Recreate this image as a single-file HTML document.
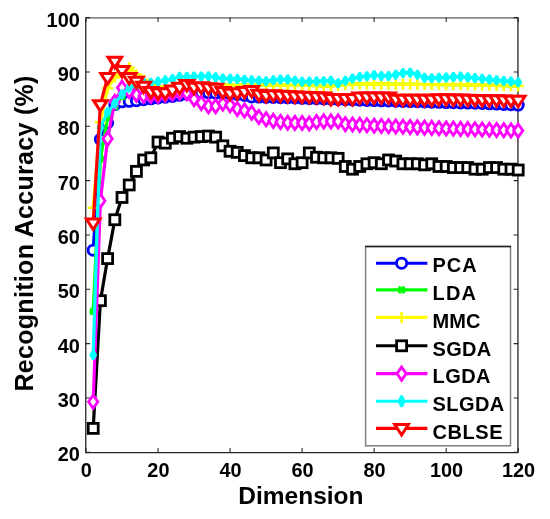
<!DOCTYPE html>
<html><head><meta charset="utf-8"><style>
html,body{margin:0;padding:0;background:#fff;width:550px;height:519px;overflow:hidden}
svg{display:block;will-change:transform}
text{font-family:"Liberation Sans",sans-serif;font-weight:bold;fill:#000}
.tick text{font-size:19.9px}
.lg{font-size:20px}
.xl{font-size:24.5px}
.yl{font-size:25px}
</style></head><body>
<svg width="550" height="519" viewBox="0 0 550 519">
<rect width="550" height="519" fill="#fff"/>
<path d="M85.75 17.2V452.55H517.95V17.2" fill="none" stroke="#262626" stroke-width="1.3"/><path d="M85.1 17.8H518.6" fill="none" stroke="#8a8a8a" stroke-width="1.7"/><path d="M85.75 452.30h4.3M517.95 452.30h-4.3M85.75 397.96h4.3M517.95 397.96h-4.3M85.75 343.62h4.3M517.95 343.62h-4.3M85.75 289.29h4.3M517.95 289.29h-4.3M85.75 234.95h4.3M517.95 234.95h-4.3M85.75 180.61h4.3M517.95 180.61h-4.3M85.75 126.28h4.3M517.95 126.28h-4.3M85.75 71.94h4.3M517.95 71.94h-4.3M85.75 17.60h4.3M517.95 17.60h-4.3M86.00 452.3v-4.3M86.00 17.6v4.3M158.03 452.3v-4.3M158.03 17.6v4.3M230.07 452.3v-4.3M230.07 17.6v4.3M302.10 452.3v-4.3M302.10 17.6v4.3M374.13 452.3v-4.3M374.13 17.6v4.3M446.17 452.3v-4.3M446.17 17.6v4.3M518.20 452.3v-4.3M518.20 17.6v4.3" stroke="#262626" stroke-width="1.1" fill="none"/>
<g><path d="M93.20 250.16L100.41 139.32L107.61 123.01L114.81 104.54L122.02 101.82L129.22 101.28L136.42 100.74L143.63 99.65L150.83 98.83L158.03 98.02L165.24 97.20L172.44 96.39L179.64 95.30L186.85 94.22L194.05 93.40L201.25 92.59L208.46 92.86L215.66 93.13L222.86 93.40L230.07 93.67L237.27 94.40L244.47 95.48L251.68 96.93L258.88 97.11L266.08 97.29L273.29 97.48L280.49 97.66L287.69 97.84L294.90 98.02L302.10 98.29L309.30 98.56L316.51 98.74L323.71 98.93L330.91 99.11L338.12 99.38L345.32 99.65L352.52 99.92L359.73 100.19L366.93 100.39L374.13 100.59L381.34 100.79L388.54 100.98L395.74 101.18L402.95 101.38L410.15 101.58L417.35 101.77L424.56 101.97L431.76 102.17L438.96 102.37L446.17 102.55L453.37 102.73L460.57 102.91L467.78 103.09L474.98 103.27L482.18 103.45L489.39 103.78L496.59 104.11L503.79 104.43L511.00 104.76L518.20 105.08" fill="none" stroke="#0000ff" stroke-width="3.2" stroke-linejoin="round"/><g fill="#fff" stroke="#0000ff" stroke-width="2.8" stroke-linejoin="miter"><circle cx="93.20" cy="250.16" r="5.1"/><circle cx="100.41" cy="139.32" r="5.1"/><circle cx="107.61" cy="123.01" r="5.1"/><circle cx="114.81" cy="104.54" r="5.1"/><circle cx="122.02" cy="101.82" r="5.1"/><circle cx="129.22" cy="101.28" r="5.1"/><circle cx="136.42" cy="100.74" r="5.1"/><circle cx="143.63" cy="99.65" r="5.1"/><circle cx="150.83" cy="98.83" r="5.1"/><circle cx="158.03" cy="98.02" r="5.1"/><circle cx="165.24" cy="97.20" r="5.1"/><circle cx="172.44" cy="96.39" r="5.1"/><circle cx="179.64" cy="95.30" r="5.1"/><circle cx="186.85" cy="94.22" r="5.1"/><circle cx="194.05" cy="93.40" r="5.1"/><circle cx="201.25" cy="92.59" r="5.1"/><circle cx="208.46" cy="92.86" r="5.1"/><circle cx="215.66" cy="93.13" r="5.1"/><circle cx="222.86" cy="93.40" r="5.1"/><circle cx="230.07" cy="93.67" r="5.1"/><circle cx="237.27" cy="94.40" r="5.1"/><circle cx="244.47" cy="95.48" r="5.1"/><circle cx="251.68" cy="96.93" r="5.1"/><circle cx="258.88" cy="97.11" r="5.1"/><circle cx="266.08" cy="97.29" r="5.1"/><circle cx="273.29" cy="97.48" r="5.1"/><circle cx="280.49" cy="97.66" r="5.1"/><circle cx="287.69" cy="97.84" r="5.1"/><circle cx="294.90" cy="98.02" r="5.1"/><circle cx="302.10" cy="98.29" r="5.1"/><circle cx="309.30" cy="98.56" r="5.1"/><circle cx="316.51" cy="98.74" r="5.1"/><circle cx="323.71" cy="98.93" r="5.1"/><circle cx="330.91" cy="99.11" r="5.1"/><circle cx="338.12" cy="99.38" r="5.1"/><circle cx="345.32" cy="99.65" r="5.1"/><circle cx="352.52" cy="99.92" r="5.1"/><circle cx="359.73" cy="100.19" r="5.1"/><circle cx="366.93" cy="100.39" r="5.1"/><circle cx="374.13" cy="100.59" r="5.1"/><circle cx="381.34" cy="100.79" r="5.1"/><circle cx="388.54" cy="100.98" r="5.1"/><circle cx="395.74" cy="101.18" r="5.1"/><circle cx="402.95" cy="101.38" r="5.1"/><circle cx="410.15" cy="101.58" r="5.1"/><circle cx="417.35" cy="101.77" r="5.1"/><circle cx="424.56" cy="101.97" r="5.1"/><circle cx="431.76" cy="102.17" r="5.1"/><circle cx="438.96" cy="102.37" r="5.1"/><circle cx="446.17" cy="102.55" r="5.1"/><circle cx="453.37" cy="102.73" r="5.1"/><circle cx="460.57" cy="102.91" r="5.1"/><circle cx="467.78" cy="103.09" r="5.1"/><circle cx="474.98" cy="103.27" r="5.1"/><circle cx="482.18" cy="103.45" r="5.1"/><circle cx="489.39" cy="103.78" r="5.1"/><circle cx="496.59" cy="104.11" r="5.1"/><circle cx="503.79" cy="104.43" r="5.1"/><circle cx="511.00" cy="104.76" r="5.1"/><circle cx="518.20" cy="105.08" r="5.1"/></g><path d="M93.20 311.57L100.41 158.88L107.61 117.58L114.81 106.71L122.02 96.39L129.22 89.33L136.42 85.52L143.63 83.35L150.83 84.98L158.03 87.15L165.24 86.97L172.44 86.79L179.64 86.61L186.85 86.38L194.05 86.14L201.25 85.91L208.46 85.68L215.66 85.44L222.86 85.21L230.07 84.98L237.27 84.98L244.47 84.98L251.68 84.98L258.88 84.98L266.08 84.98L273.29 84.98L280.49 84.98L287.69 84.98L294.90 84.98L302.10 84.98L309.30 85.34L316.51 85.70L323.71 86.07L330.91 85.79L338.12 85.52L345.32 84.71L352.52 83.89L359.73 83.95L366.93 84.01L374.13 84.07L381.34 84.13L388.54 84.19L395.74 84.25L402.95 84.31L410.15 84.37L417.35 84.44L424.56 84.50L431.76 84.56L438.96 84.62L446.17 84.68L453.37 84.74L460.57 84.80L467.78 84.86L474.98 84.92L482.18 84.98L489.39 85.20L496.59 85.41L503.79 85.63L511.00 85.85L518.20 86.07" fill="none" stroke="#00ff00" stroke-width="3.2" stroke-linejoin="round"/><g fill="#00ff00"><ellipse cx="91.50" cy="311.57" rx="2" ry="3.8"/><ellipse cx="94.90" cy="311.57" rx="2" ry="3.8"/><ellipse cx="98.71" cy="158.88" rx="2" ry="3.8"/><ellipse cx="102.11" cy="158.88" rx="2" ry="3.8"/><ellipse cx="105.91" cy="117.58" rx="2" ry="3.8"/><ellipse cx="109.31" cy="117.58" rx="2" ry="3.8"/><ellipse cx="113.11" cy="106.71" rx="2" ry="3.8"/><ellipse cx="116.51" cy="106.71" rx="2" ry="3.8"/><ellipse cx="120.32" cy="96.39" rx="2" ry="3.8"/><ellipse cx="123.72" cy="96.39" rx="2" ry="3.8"/><ellipse cx="127.52" cy="89.33" rx="2" ry="3.8"/><ellipse cx="130.92" cy="89.33" rx="2" ry="3.8"/><ellipse cx="134.72" cy="85.52" rx="2" ry="3.8"/><ellipse cx="138.12" cy="85.52" rx="2" ry="3.8"/></g><path d="M93.20 207.78L100.41 121.93L107.61 88.24L114.81 77.37L122.02 70.31L129.22 67.59L136.42 74.65L143.63 80.09L150.83 84.98L158.03 87.15L165.24 86.97L172.44 86.79L179.64 86.61L186.85 86.38L194.05 86.14L201.25 85.91L208.46 85.68L215.66 85.44L222.86 85.21L230.07 84.98L237.27 84.98L244.47 84.98L251.68 84.98L258.88 84.98L266.08 84.98L273.29 84.98L280.49 84.98L287.69 84.98L294.90 84.98L302.10 84.98L309.30 85.34L316.51 85.70L323.71 86.07L330.91 85.79L338.12 85.52L345.32 84.71L352.52 83.89L359.73 83.95L366.93 84.01L374.13 84.07L381.34 84.13L388.54 84.19L395.74 84.25L402.95 84.31L410.15 84.37L417.35 84.44L424.56 84.50L431.76 84.56L438.96 84.62L446.17 84.68L453.37 84.74L460.57 84.80L467.78 84.86L474.98 84.92L482.18 84.98L489.39 85.20L496.59 85.41L503.79 85.63L511.00 85.85L518.20 86.07" fill="none" stroke="#ffff00" stroke-width="3.2" stroke-linejoin="round"/><g fill="none" stroke="#ffff00" stroke-width="2.6"><path d="M87.70 207.78H98.70M93.20 202.28V213.28"/><path d="M94.91 121.93H105.91M100.41 116.43V127.43"/><path d="M102.11 88.24H113.11M107.61 82.74V93.74"/><path d="M109.31 77.37H120.31M114.81 71.87V82.87"/><path d="M116.52 70.31H127.52M122.02 64.81V75.81"/><path d="M123.72 67.59H134.72M129.22 62.09V73.09"/><path d="M130.92 74.65H141.92M136.42 69.15V80.15"/><path d="M138.13 80.09H149.13M143.63 74.59V85.59"/><path d="M145.33 84.98H156.33M150.83 79.48V90.48"/><path d="M152.53 87.15H163.53M158.03 81.65V92.65"/><path d="M159.74 86.97H170.74M165.24 81.47V92.47"/><path d="M166.94 86.79H177.94M172.44 81.29V92.29"/><path d="M174.14 86.61H185.14M179.64 81.11V92.11"/><path d="M181.35 86.38H192.35M186.85 80.88V91.88"/><path d="M188.55 86.14H199.55M194.05 80.64V91.64"/><path d="M195.75 85.91H206.75M201.25 80.41V91.41"/><path d="M202.96 85.68H213.96M208.46 80.18V91.18"/><path d="M210.16 85.44H221.16M215.66 79.94V90.94"/><path d="M217.36 85.21H228.36M222.86 79.71V90.71"/><path d="M224.57 84.98H235.57M230.07 79.48V90.48"/><path d="M231.77 84.98H242.77M237.27 79.48V90.48"/><path d="M238.97 84.98H249.97M244.47 79.48V90.48"/><path d="M246.18 84.98H257.18M251.68 79.48V90.48"/><path d="M253.38 84.98H264.38M258.88 79.48V90.48"/><path d="M260.58 84.98H271.58M266.08 79.48V90.48"/><path d="M267.79 84.98H278.79M273.29 79.48V90.48"/><path d="M274.99 84.98H285.99M280.49 79.48V90.48"/><path d="M282.19 84.98H293.19M287.69 79.48V90.48"/><path d="M289.40 84.98H300.40M294.90 79.48V90.48"/><path d="M296.60 84.98H307.60M302.10 79.48V90.48"/><path d="M303.80 85.34H314.80M309.30 79.84V90.84"/><path d="M311.01 85.70H322.01M316.51 80.20V91.20"/><path d="M318.21 86.07H329.21M323.71 80.57V91.57"/><path d="M325.41 85.79H336.41M330.91 80.29V91.29"/><path d="M332.62 85.52H343.62M338.12 80.02V91.02"/><path d="M339.82 84.71H350.82M345.32 79.21V90.21"/><path d="M347.02 83.89H358.02M352.52 78.39V89.39"/><path d="M354.23 83.95H365.23M359.73 78.45V89.45"/><path d="M361.43 84.01H372.43M366.93 78.51V89.51"/><path d="M368.63 84.07H379.63M374.13 78.57V89.57"/><path d="M375.84 84.13H386.84M381.34 78.63V89.63"/><path d="M383.04 84.19H394.04M388.54 78.69V89.69"/><path d="M390.24 84.25H401.24M395.74 78.75V89.75"/><path d="M397.45 84.31H408.45M402.95 78.81V89.81"/><path d="M404.65 84.37H415.65M410.15 78.87V89.87"/><path d="M411.85 84.44H422.85M417.35 78.94V89.94"/><path d="M419.06 84.50H430.06M424.56 79.00V90.00"/><path d="M426.26 84.56H437.26M431.76 79.06V90.06"/><path d="M433.46 84.62H444.46M438.96 79.12V90.12"/><path d="M440.67 84.68H451.67M446.17 79.18V90.18"/><path d="M447.87 84.74H458.87M453.37 79.24V90.24"/><path d="M455.07 84.80H466.07M460.57 79.30V90.30"/><path d="M462.28 84.86H473.28M467.78 79.36V90.36"/><path d="M469.48 84.92H480.48M474.98 79.42V90.42"/><path d="M476.68 84.98H487.68M482.18 79.48V90.48"/><path d="M483.89 85.20H494.89M489.39 79.70V90.70"/><path d="M491.09 85.41H502.09M496.59 79.91V90.91"/><path d="M498.29 85.63H509.29M503.79 80.13V91.13"/><path d="M505.50 85.85H516.50M511.00 80.35V91.35"/><path d="M512.70 86.07H523.70M518.20 80.57V91.57"/></g><path d="M93.20 428.39L100.41 300.70L107.61 258.59L114.81 219.74L122.02 197.46L129.22 184.96L136.42 171.38L143.63 159.96L150.83 157.79L158.03 142.03L165.24 143.12L172.44 138.23L179.64 136.60L186.85 138.23L194.05 137.14L201.25 136.60L208.46 136.06L215.66 137.14L222.86 145.84L230.07 151.27L237.27 152.36L244.47 155.62L251.68 157.79L258.88 157.79L266.08 159.96L273.29 152.90L280.49 162.68L287.69 158.88L294.90 163.77L302.10 162.68L309.30 152.90L316.51 157.25L323.71 157.79L330.91 157.79L338.12 158.33L345.32 166.48L352.52 169.20L359.73 166.48L366.93 163.77L374.13 162.68L381.34 163.77L388.54 159.96L395.74 161.05L402.95 163.77L410.15 163.77L417.35 163.77L424.56 164.85L431.76 163.77L438.96 166.48L446.17 166.48L453.37 167.57L460.57 167.57L467.78 167.57L474.98 169.20L482.18 169.20L489.39 167.57L496.59 167.57L503.79 169.20L511.00 169.20L518.20 170.02" fill="none" stroke="#000000" stroke-width="3.2" stroke-linejoin="round"/><g fill="#fff" stroke="#000000" stroke-width="2.8" stroke-linejoin="miter"><rect x="88.20" y="423.39" width="10" height="10"/><rect x="95.41" y="295.70" width="10" height="10"/><rect x="102.61" y="253.59" width="10" height="10"/><rect x="109.81" y="214.74" width="10" height="10"/><rect x="117.02" y="192.46" width="10" height="10"/><rect x="124.22" y="179.96" width="10" height="10"/><rect x="131.42" y="166.38" width="10" height="10"/><rect x="138.63" y="154.96" width="10" height="10"/><rect x="145.83" y="152.79" width="10" height="10"/><rect x="153.03" y="137.03" width="10" height="10"/><rect x="160.24" y="138.12" width="10" height="10"/><rect x="167.44" y="133.23" width="10" height="10"/><rect x="174.64" y="131.60" width="10" height="10"/><rect x="181.85" y="133.23" width="10" height="10"/><rect x="189.05" y="132.14" width="10" height="10"/><rect x="196.25" y="131.60" width="10" height="10"/><rect x="203.46" y="131.06" width="10" height="10"/><rect x="210.66" y="132.14" width="10" height="10"/><rect x="217.86" y="140.84" width="10" height="10"/><rect x="225.07" y="146.27" width="10" height="10"/><rect x="232.27" y="147.36" width="10" height="10"/><rect x="239.47" y="150.62" width="10" height="10"/><rect x="246.68" y="152.79" width="10" height="10"/><rect x="253.88" y="152.79" width="10" height="10"/><rect x="261.08" y="154.96" width="10" height="10"/><rect x="268.29" y="147.90" width="10" height="10"/><rect x="275.49" y="157.68" width="10" height="10"/><rect x="282.69" y="153.88" width="10" height="10"/><rect x="289.90" y="158.77" width="10" height="10"/><rect x="297.10" y="157.68" width="10" height="10"/><rect x="304.30" y="147.90" width="10" height="10"/><rect x="311.51" y="152.25" width="10" height="10"/><rect x="318.71" y="152.79" width="10" height="10"/><rect x="325.91" y="152.79" width="10" height="10"/><rect x="333.12" y="153.33" width="10" height="10"/><rect x="340.32" y="161.48" width="10" height="10"/><rect x="347.52" y="164.20" width="10" height="10"/><rect x="354.73" y="161.48" width="10" height="10"/><rect x="361.93" y="158.77" width="10" height="10"/><rect x="369.13" y="157.68" width="10" height="10"/><rect x="376.34" y="158.77" width="10" height="10"/><rect x="383.54" y="154.96" width="10" height="10"/><rect x="390.74" y="156.05" width="10" height="10"/><rect x="397.95" y="158.77" width="10" height="10"/><rect x="405.15" y="158.77" width="10" height="10"/><rect x="412.35" y="158.77" width="10" height="10"/><rect x="419.56" y="159.85" width="10" height="10"/><rect x="426.76" y="158.77" width="10" height="10"/><rect x="433.96" y="161.48" width="10" height="10"/><rect x="441.17" y="161.48" width="10" height="10"/><rect x="448.37" y="162.57" width="10" height="10"/><rect x="455.57" y="162.57" width="10" height="10"/><rect x="462.78" y="162.57" width="10" height="10"/><rect x="469.98" y="164.20" width="10" height="10"/><rect x="477.18" y="164.20" width="10" height="10"/><rect x="484.39" y="162.57" width="10" height="10"/><rect x="491.59" y="162.57" width="10" height="10"/><rect x="498.79" y="164.20" width="10" height="10"/><rect x="506.00" y="164.20" width="10" height="10"/><rect x="513.20" y="165.02" width="10" height="10"/></g><path d="M93.20 401.77L100.41 200.72L107.61 138.77L114.81 101.82L122.02 87.70L129.22 90.96L136.42 94.76L143.63 95.85L150.83 95.85L158.03 95.85L165.24 94.76L172.44 93.67L179.64 92.59L186.85 93.13L194.05 99.11L201.25 102.91L208.46 106.17L215.66 106.17L222.86 103.45L230.07 105.08L237.27 108.89L244.47 110.52L251.68 112.69L258.88 117.04L266.08 119.21L273.29 120.84L280.49 121.93L287.69 122.74L294.90 122.88L302.10 123.01L309.30 123.56L316.51 121.93L323.71 121.38L330.91 121.38L338.12 121.38L345.32 124.10L352.52 124.51L359.73 124.92L366.93 125.32L374.13 125.73L381.34 126.00L388.54 126.28L395.74 126.55L402.95 126.82L410.15 127.09L417.35 127.36L424.56 127.63L431.76 127.91L438.96 128.18L446.17 128.45L453.37 128.67L460.57 128.88L467.78 129.10L474.98 129.32L482.18 129.54L489.39 129.75L496.59 129.97L503.79 130.19L511.00 130.40L518.20 130.62" fill="none" stroke="#ff00ff" stroke-width="3.2" stroke-linejoin="round"/><g fill="#fff" stroke="#ff00ff" stroke-width="2.8" stroke-linejoin="miter"><path d="M93.20 395.17L97.80 401.77L93.20 408.37L88.60 401.77Z"/><path d="M100.41 194.12L105.01 200.72L100.41 207.32L95.81 200.72Z"/><path d="M107.61 132.17L112.21 138.77L107.61 145.37L103.01 138.77Z"/><path d="M114.81 95.22L119.41 101.82L114.81 108.42L110.21 101.82Z"/><path d="M122.02 81.10L126.62 87.70L122.02 94.30L117.42 87.70Z"/><path d="M129.22 84.36L133.82 90.96L129.22 97.56L124.62 90.96Z"/><path d="M136.42 88.16L141.02 94.76L136.42 101.36L131.82 94.76Z"/><path d="M143.63 89.25L148.23 95.85L143.63 102.45L139.03 95.85Z"/><path d="M150.83 89.25L155.43 95.85L150.83 102.45L146.23 95.85Z"/><path d="M158.03 89.25L162.63 95.85L158.03 102.45L153.43 95.85Z"/><path d="M165.24 88.16L169.84 94.76L165.24 101.36L160.64 94.76Z"/><path d="M172.44 87.07L177.04 93.67L172.44 100.27L167.84 93.67Z"/><path d="M179.64 85.99L184.24 92.59L179.64 99.19L175.04 92.59Z"/><path d="M186.85 86.53L191.45 93.13L186.85 99.73L182.25 93.13Z"/><path d="M194.05 92.51L198.65 99.11L194.05 105.71L189.45 99.11Z"/><path d="M201.25 96.31L205.85 102.91L201.25 109.51L196.65 102.91Z"/><path d="M208.46 99.57L213.06 106.17L208.46 112.77L203.86 106.17Z"/><path d="M215.66 99.57L220.26 106.17L215.66 112.77L211.06 106.17Z"/><path d="M222.86 96.85L227.46 103.45L222.86 110.05L218.26 103.45Z"/><path d="M230.07 98.48L234.67 105.08L230.07 111.68L225.47 105.08Z"/><path d="M237.27 102.29L241.87 108.89L237.27 115.49L232.67 108.89Z"/><path d="M244.47 103.92L249.07 110.52L244.47 117.12L239.87 110.52Z"/><path d="M251.68 106.09L256.28 112.69L251.68 119.29L247.08 112.69Z"/><path d="M258.88 110.44L263.48 117.04L258.88 123.64L254.28 117.04Z"/><path d="M266.08 112.61L270.68 119.21L266.08 125.81L261.48 119.21Z"/><path d="M273.29 114.24L277.89 120.84L273.29 127.44L268.69 120.84Z"/><path d="M280.49 115.33L285.09 121.93L280.49 128.53L275.89 121.93Z"/><path d="M287.69 116.14L292.29 122.74L287.69 129.34L283.09 122.74Z"/><path d="M294.90 116.28L299.50 122.88L294.90 129.48L290.30 122.88Z"/><path d="M302.10 116.41L306.70 123.01L302.10 129.61L297.50 123.01Z"/><path d="M309.30 116.96L313.90 123.56L309.30 130.16L304.70 123.56Z"/><path d="M316.51 115.33L321.11 121.93L316.51 128.53L311.91 121.93Z"/><path d="M323.71 114.78L328.31 121.38L323.71 127.98L319.11 121.38Z"/><path d="M330.91 114.78L335.51 121.38L330.91 127.98L326.31 121.38Z"/><path d="M338.12 114.78L342.72 121.38L338.12 127.98L333.52 121.38Z"/><path d="M345.32 117.50L349.92 124.10L345.32 130.70L340.72 124.10Z"/><path d="M352.52 117.91L357.12 124.51L352.52 131.11L347.92 124.51Z"/><path d="M359.73 118.32L364.33 124.92L359.73 131.52L355.13 124.92Z"/><path d="M366.93 118.72L371.53 125.32L366.93 131.92L362.33 125.32Z"/><path d="M374.13 119.13L378.73 125.73L374.13 132.33L369.53 125.73Z"/><path d="M381.34 119.40L385.94 126.00L381.34 132.60L376.74 126.00Z"/><path d="M388.54 119.68L393.14 126.28L388.54 132.88L383.94 126.28Z"/><path d="M395.74 119.95L400.34 126.55L395.74 133.15L391.14 126.55Z"/><path d="M402.95 120.22L407.55 126.82L402.95 133.42L398.35 126.82Z"/><path d="M410.15 120.49L414.75 127.09L410.15 133.69L405.55 127.09Z"/><path d="M417.35 120.76L421.95 127.36L417.35 133.96L412.75 127.36Z"/><path d="M424.56 121.03L429.16 127.63L424.56 134.23L419.96 127.63Z"/><path d="M431.76 121.31L436.36 127.91L431.76 134.51L427.16 127.91Z"/><path d="M438.96 121.58L443.56 128.18L438.96 134.78L434.36 128.18Z"/><path d="M446.17 121.85L450.77 128.45L446.17 135.05L441.57 128.45Z"/><path d="M453.37 122.07L457.97 128.67L453.37 135.27L448.77 128.67Z"/><path d="M460.57 122.28L465.17 128.88L460.57 135.48L455.97 128.88Z"/><path d="M467.78 122.50L472.38 129.10L467.78 135.70L463.18 129.10Z"/><path d="M474.98 122.72L479.58 129.32L474.98 135.92L470.38 129.32Z"/><path d="M482.18 122.94L486.78 129.54L482.18 136.14L477.58 129.54Z"/><path d="M489.39 123.15L493.99 129.75L489.39 136.35L484.79 129.75Z"/><path d="M496.59 123.37L501.19 129.97L496.59 136.57L491.99 129.97Z"/><path d="M503.79 123.59L508.39 130.19L503.79 136.79L499.19 130.19Z"/><path d="M511.00 123.80L515.60 130.40L511.00 137.00L506.40 130.40Z"/><path d="M518.20 124.02L522.80 130.62L518.20 137.22L513.60 130.62Z"/></g><path d="M93.20 355.04L100.41 127.36L107.61 112.15L114.81 103.45L122.02 94.22L129.22 87.70L136.42 83.89L143.63 82.26L150.83 82.81L158.03 81.72L165.24 80.36L172.44 79.00L179.64 76.83L186.85 76.69L194.05 76.56L201.25 76.42L208.46 76.28L215.66 77.37L222.86 78.46L230.07 78.73L237.27 79.00L244.47 79.73L251.68 80.31L258.88 80.74L266.08 81.17L273.29 80.31L280.49 79.44L287.69 79.54L294.90 80.63L302.10 81.72L309.30 81.61L316.51 81.50L323.71 81.17L330.91 80.63L338.12 83.35L345.32 80.81L352.52 78.46L359.73 77.01L366.93 76.28L374.13 75.20L381.34 75.92L388.54 75.88L395.74 74.65L402.95 73.02L410.15 72.66L417.35 74.65L424.56 77.64L431.76 78.25L438.96 77.82L446.17 77.40L453.37 76.98L460.57 76.56L467.78 77.30L474.98 78.04L482.18 78.78L489.39 79.52L496.59 80.26L503.79 80.96L511.00 81.61L518.20 82.26" fill="none" stroke="#00ffff" stroke-width="3.2" stroke-linejoin="round"/><g fill="#00ffff"><path d="M92.10 350.04H94.30L96.80 354.14V355.94L94.30 360.04H92.10L89.60 355.94V354.14Z"/><path d="M99.31 122.36H101.51L104.01 126.46V128.26L101.51 132.36H99.31L96.81 128.26V126.46Z"/><path d="M106.51 107.15H108.71L111.21 111.25V113.05L108.71 117.15H106.51L104.01 113.05V111.25Z"/><path d="M113.71 98.45H115.91L118.41 102.55V104.35L115.91 108.45H113.71L111.21 104.35V102.55Z"/><path d="M120.92 89.22H123.12L125.62 93.32V95.12L123.12 99.22H120.92L118.42 95.12V93.32Z"/><path d="M128.12 82.70H130.32L132.82 86.80V88.60L130.32 92.70H128.12L125.62 88.60V86.80Z"/><path d="M135.32 78.89H137.52L140.02 82.99V84.79L137.52 88.89H135.32L132.82 84.79V82.99Z"/><path d="M142.53 77.26H144.73L147.23 81.36V83.16L144.73 87.26H142.53L140.03 83.16V81.36Z"/><path d="M149.73 77.81H151.93L154.43 81.91V83.71L151.93 87.81H149.73L147.23 83.71V81.91Z"/><path d="M156.93 76.72H159.13L161.63 80.82V82.62L159.13 86.72H156.93L154.43 82.62V80.82Z"/><path d="M164.14 75.36H166.34L168.84 79.46V81.26L166.34 85.36H164.14L161.64 81.26V79.46Z"/><path d="M171.34 74.00H173.54L176.04 78.10V79.90L173.54 84.00H171.34L168.84 79.90V78.10Z"/><path d="M178.54 71.83H180.74L183.24 75.93V77.73L180.74 81.83H178.54L176.04 77.73V75.93Z"/><path d="M185.75 71.69H187.95L190.45 75.79V77.59L187.95 81.69H185.75L183.25 77.59V75.79Z"/><path d="M192.95 71.56H195.15L197.65 75.66V77.46L195.15 81.56H192.95L190.45 77.46V75.66Z"/><path d="M200.15 71.42H202.35L204.85 75.52V77.32L202.35 81.42H200.15L197.65 77.32V75.52Z"/><path d="M207.36 71.28H209.56L212.06 75.38V77.18L209.56 81.28H207.36L204.86 77.18V75.38Z"/><path d="M214.56 72.37H216.76L219.26 76.47V78.27L216.76 82.37H214.56L212.06 78.27V76.47Z"/><path d="M221.76 73.46H223.96L226.46 77.56V79.36L223.96 83.46H221.76L219.26 79.36V77.56Z"/><path d="M228.97 73.73H231.17L233.67 77.83V79.63L231.17 83.73H228.97L226.47 79.63V77.83Z"/><path d="M236.17 74.00H238.37L240.87 78.10V79.90L238.37 84.00H236.17L233.67 79.90V78.10Z"/><path d="M243.37 74.73H245.57L248.07 78.83V80.63L245.57 84.73H243.37L240.87 80.63V78.83Z"/><path d="M250.58 75.31H252.78L255.28 79.41V81.21L252.78 85.31H250.58L248.08 81.21V79.41Z"/><path d="M257.78 75.74H259.98L262.48 79.84V81.64L259.98 85.74H257.78L255.28 81.64V79.84Z"/><path d="M264.98 76.17H267.18L269.68 80.27V82.07L267.18 86.17H264.98L262.48 82.07V80.27Z"/><path d="M272.19 75.31H274.39L276.89 79.41V81.21L274.39 85.31H272.19L269.69 81.21V79.41Z"/><path d="M279.39 74.44H281.59L284.09 78.54V80.34L281.59 84.44H279.39L276.89 80.34V78.54Z"/><path d="M286.59 74.54H288.79L291.29 78.64V80.44L288.79 84.54H286.59L284.09 80.44V78.64Z"/><path d="M293.80 75.63H296.00L298.50 79.73V81.53L296.00 85.63H293.80L291.30 81.53V79.73Z"/><path d="M301.00 76.72H303.20L305.70 80.82V82.62L303.20 86.72H301.00L298.50 82.62V80.82Z"/><path d="M308.20 76.61H310.40L312.90 80.71V82.51L310.40 86.61H308.20L305.70 82.51V80.71Z"/><path d="M315.41 76.50H317.61L320.11 80.60V82.40L317.61 86.50H315.41L312.91 82.40V80.60Z"/><path d="M322.61 76.17H324.81L327.31 80.27V82.07L324.81 86.17H322.61L320.11 82.07V80.27Z"/><path d="M329.81 75.63H332.01L334.51 79.73V81.53L332.01 85.63H329.81L327.31 81.53V79.73Z"/><path d="M337.02 78.35H339.22L341.72 82.45V84.25L339.22 88.35H337.02L334.52 84.25V82.45Z"/><path d="M344.22 75.81H346.42L348.92 79.91V81.71L346.42 85.81H344.22L341.72 81.71V79.91Z"/><path d="M351.42 73.46H353.62L356.12 77.56V79.36L353.62 83.46H351.42L348.92 79.36V77.56Z"/><path d="M358.63 72.01H360.83L363.33 76.11V77.91L360.83 82.01H358.63L356.13 77.91V76.11Z"/><path d="M365.83 71.28H368.03L370.53 75.38V77.18L368.03 81.28H365.83L363.33 77.18V75.38Z"/><path d="M373.03 70.20H375.23L377.73 74.30V76.10L375.23 80.20H373.03L370.53 76.10V74.30Z"/><path d="M380.24 70.92H382.44L384.94 75.02V76.82L382.44 80.92H380.24L377.74 76.82V75.02Z"/><path d="M387.44 70.88H389.64L392.14 74.98V76.78L389.64 80.88H387.44L384.94 76.78V74.98Z"/><path d="M394.64 69.65H396.84L399.34 73.75V75.55L396.84 79.65H394.64L392.14 75.55V73.75Z"/><path d="M401.85 68.02H404.05L406.55 72.12V73.92L404.05 78.02H401.85L399.35 73.92V72.12Z"/><path d="M409.05 67.66H411.25L413.75 71.76V73.56L411.25 77.66H409.05L406.55 73.56V71.76Z"/><path d="M416.25 69.65H418.45L420.95 73.75V75.55L418.45 79.65H416.25L413.75 75.55V73.75Z"/><path d="M423.46 72.64H425.66L428.16 76.74V78.54L425.66 82.64H423.46L420.96 78.54V76.74Z"/><path d="M430.66 73.25H432.86L435.36 77.35V79.15L432.86 83.25H430.66L428.16 79.15V77.35Z"/><path d="M437.86 72.82H440.06L442.56 76.92V78.72L440.06 82.82H437.86L435.36 78.72V76.92Z"/><path d="M445.07 72.40H447.27L449.77 76.50V78.30L447.27 82.40H445.07L442.57 78.30V76.50Z"/><path d="M452.27 71.98H454.47L456.97 76.08V77.88L454.47 81.98H452.27L449.77 77.88V76.08Z"/><path d="M459.47 71.56H461.67L464.17 75.66V77.46L461.67 81.56H459.47L456.97 77.46V75.66Z"/><path d="M466.68 72.30H468.88L471.38 76.40V78.20L468.88 82.30H466.68L464.18 78.20V76.40Z"/><path d="M473.88 73.04H476.08L478.58 77.14V78.94L476.08 83.04H473.88L471.38 78.94V77.14Z"/><path d="M481.08 73.78H483.28L485.78 77.88V79.68L483.28 83.78H481.08L478.58 79.68V77.88Z"/><path d="M488.29 74.52H490.49L492.99 78.62V80.42L490.49 84.52H488.29L485.79 80.42V78.62Z"/><path d="M495.49 75.26H497.69L500.19 79.36V81.16L497.69 85.26H495.49L492.99 81.16V79.36Z"/><path d="M502.69 75.96H504.89L507.39 80.06V81.86L504.89 85.96H502.69L500.19 81.86V80.06Z"/><path d="M509.90 76.61H512.10L514.60 80.71V82.51L512.10 86.61H509.90L507.40 82.51V80.71Z"/><path d="M517.10 77.26H519.30L521.80 81.36V83.16L519.30 87.26H517.10L514.60 83.16V81.36Z"/></g><path d="M93.20 223.00L100.41 104.54L107.61 77.37L114.81 61.07L122.02 70.31L129.22 77.37L136.42 81.17L143.63 86.07L150.83 91.50L158.03 92.59L165.24 92.59L172.44 89.87L179.64 87.15L186.85 84.44L194.05 87.15L201.25 86.61L208.46 87.70L215.66 88.24L222.86 91.50L230.07 93.13L237.27 92.59L244.47 91.50L251.68 90.41L258.88 94.22L266.08 95.30L273.29 94.76L280.49 95.12L287.69 95.48L294.90 95.85L302.10 96.12L309.30 96.39L316.51 96.66L323.71 96.93L330.91 98.29L338.12 98.29L345.32 98.29L352.52 98.29L359.73 96.93L366.93 96.93L374.13 96.93L381.34 96.93L388.54 96.93L395.74 99.11L402.95 99.11L410.15 99.11L417.35 99.11L424.56 99.11L431.76 99.11L438.96 98.56L446.17 98.71L453.37 98.86L460.57 99.01L467.78 99.16L474.98 99.30L482.18 99.45L489.39 99.60L496.59 99.75L503.79 99.90L511.00 100.04L518.20 100.19" fill="none" stroke="#ff0000" stroke-width="3.2" stroke-linejoin="round"/><g fill="#fff" stroke="#ff0000" stroke-width="3.0" stroke-linejoin="miter"><path d="M86.40 219.10L100.00 219.10L93.20 229.60Z"/><path d="M93.61 100.64L107.21 100.64L100.41 111.14Z"/><path d="M100.81 73.47L114.41 73.47L107.61 83.97Z"/><path d="M108.01 57.17L121.61 57.17L114.81 67.67Z"/><path d="M115.22 66.41L128.82 66.41L122.02 76.91Z"/><path d="M122.42 73.47L136.02 73.47L129.22 83.97Z"/><path d="M129.62 77.27L143.22 77.27L136.42 87.77Z"/><path d="M136.83 82.17L150.43 82.17L143.63 92.67Z"/><path d="M144.03 87.60L157.63 87.60L150.83 98.10Z"/><path d="M151.23 88.69L164.83 88.69L158.03 99.19Z"/><path d="M158.44 88.69L172.04 88.69L165.24 99.19Z"/><path d="M165.64 85.97L179.24 85.97L172.44 96.47Z"/><path d="M172.84 83.25L186.44 83.25L179.64 93.75Z"/><path d="M180.05 80.54L193.65 80.54L186.85 91.04Z"/><path d="M187.25 83.25L200.85 83.25L194.05 93.75Z"/><path d="M194.45 82.71L208.05 82.71L201.25 93.21Z"/><path d="M201.66 83.80L215.26 83.80L208.46 94.30Z"/><path d="M208.86 84.34L222.46 84.34L215.66 94.84Z"/><path d="M216.06 87.60L229.66 87.60L222.86 98.10Z"/><path d="M223.27 89.23L236.87 89.23L230.07 99.73Z"/><path d="M230.47 88.69L244.07 88.69L237.27 99.19Z"/><path d="M237.67 87.60L251.27 87.60L244.47 98.10Z"/><path d="M244.88 86.51L258.48 86.51L251.68 97.01Z"/><path d="M252.08 90.32L265.68 90.32L258.88 100.82Z"/><path d="M259.28 91.40L272.88 91.40L266.08 101.90Z"/><path d="M266.49 90.86L280.09 90.86L273.29 101.36Z"/><path d="M273.69 91.22L287.29 91.22L280.49 101.72Z"/><path d="M280.89 91.58L294.49 91.58L287.69 102.08Z"/><path d="M288.10 91.95L301.70 91.95L294.90 102.45Z"/><path d="M295.30 92.22L308.90 92.22L302.10 102.72Z"/><path d="M302.50 92.49L316.10 92.49L309.30 102.99Z"/><path d="M309.71 92.76L323.31 92.76L316.51 103.26Z"/><path d="M316.91 93.03L330.51 93.03L323.71 103.53Z"/><path d="M324.11 94.39L337.71 94.39L330.91 104.89Z"/><path d="M331.32 94.39L344.92 94.39L338.12 104.89Z"/><path d="M338.52 94.39L352.12 94.39L345.32 104.89Z"/><path d="M345.72 94.39L359.32 94.39L352.52 104.89Z"/><path d="M352.93 93.03L366.53 93.03L359.73 103.53Z"/><path d="M360.13 93.03L373.73 93.03L366.93 103.53Z"/><path d="M367.33 93.03L380.93 93.03L374.13 103.53Z"/><path d="M374.54 93.03L388.14 93.03L381.34 103.53Z"/><path d="M381.74 93.03L395.34 93.03L388.54 103.53Z"/><path d="M388.94 95.21L402.54 95.21L395.74 105.71Z"/><path d="M396.15 95.21L409.75 95.21L402.95 105.71Z"/><path d="M403.35 95.21L416.95 95.21L410.15 105.71Z"/><path d="M410.55 95.21L424.15 95.21L417.35 105.71Z"/><path d="M417.76 95.21L431.36 95.21L424.56 105.71Z"/><path d="M424.96 95.21L438.56 95.21L431.76 105.71Z"/><path d="M432.16 94.66L445.76 94.66L438.96 105.16Z"/><path d="M439.37 94.81L452.97 94.81L446.17 105.31Z"/><path d="M446.57 94.96L460.17 94.96L453.37 105.46Z"/><path d="M453.77 95.11L467.37 95.11L460.57 105.61Z"/><path d="M460.98 95.26L474.58 95.26L467.78 105.76Z"/><path d="M468.18 95.40L481.78 95.40L474.98 105.90Z"/><path d="M475.38 95.55L488.98 95.55L482.18 106.05Z"/><path d="M482.59 95.70L496.19 95.70L489.39 106.20Z"/><path d="M489.79 95.85L503.39 95.85L496.59 106.35Z"/><path d="M496.99 96.00L510.59 96.00L503.79 106.50Z"/><path d="M504.20 96.14L517.80 96.14L511.00 106.64Z"/><path d="M511.40 96.29L525.00 96.29L518.20 106.79Z"/></g></g>
<g class="tick"><text x="79.8" y="461.30" text-anchor="end">20</text><text x="79.8" y="406.96" text-anchor="end">30</text><text x="79.8" y="352.62" text-anchor="end">40</text><text x="79.8" y="298.29" text-anchor="end">50</text><text x="79.8" y="243.95" text-anchor="end">60</text><text x="79.8" y="189.61" text-anchor="end">70</text><text x="79.8" y="135.28" text-anchor="end">80</text><text x="79.8" y="80.94" text-anchor="end">90</text><text x="79.8" y="26.60" text-anchor="end">100</text><text x="86.40" y="477.0" text-anchor="middle">0</text><text x="158.43" y="477.0" text-anchor="middle">20</text><text x="230.47" y="477.0" text-anchor="middle">40</text><text x="302.50" y="477.0" text-anchor="middle">60</text><text x="374.53" y="477.0" text-anchor="middle">80</text><text x="446.57" y="477.0" text-anchor="middle">100</text><text x="518.60" y="477.0" text-anchor="middle">120</text></g>
<rect x="365.6" y="246.5" width="144.9" height="199.3" fill="#fff" stroke="#808080" stroke-width="1.5"/><path d="M365.0 246.5H511.1" stroke="#202020" stroke-width="1.3" fill="none"/><path d="M376 263.20H427.4" stroke="#0000ff" stroke-width="3.1" fill="none"/><g fill="#fff" stroke="#0000ff" stroke-width="2.8" stroke-linejoin="miter"><circle cx="401.60" cy="263.20" r="5.1"/></g><text x="432.6" y="272.00" class="lg" textLength="44.0" lengthAdjust="spacing">PCA</text><path d="M376 289.90H427.4" stroke="#00ff00" stroke-width="3.1" fill="none"/><g fill="#00ff00"><ellipse cx="399.90" cy="289.90" rx="2" ry="3.8"/><ellipse cx="403.30" cy="289.90" rx="2" ry="3.8"/></g><text x="432.6" y="299.85" class="lg" textLength="43.4" lengthAdjust="spacing">LDA</text><path d="M376 317.40H427.4" stroke="#ffff00" stroke-width="3.1" fill="none"/><g fill="none" stroke="#ffff00" stroke-width="2.6"><path d="M396.10 317.40H407.10M401.60 311.90V322.90"/></g><text x="432.6" y="327.70" class="lg" textLength="47.8" lengthAdjust="spacing">MMC</text><path d="M376 345.80H427.4" stroke="#000000" stroke-width="3.1" fill="none"/><g fill="#fff" stroke="#000000" stroke-width="2.8" stroke-linejoin="miter"><rect x="396.60" y="340.80" width="10" height="10"/></g><text x="432.6" y="355.55" class="lg" textLength="58.6" lengthAdjust="spacing">SGDA</text><path d="M376 373.60H427.4" stroke="#ff00ff" stroke-width="3.1" fill="none"/><g fill="#fff" stroke="#ff00ff" stroke-width="2.8" stroke-linejoin="miter"><path d="M401.60 367.00L406.20 373.60L401.60 380.20L397.00 373.60Z"/></g><text x="432.6" y="383.40" class="lg" textLength="57.9" lengthAdjust="spacing">LGDA</text><path d="M376 401.20H427.4" stroke="#00ffff" stroke-width="3.1" fill="none"/><g fill="#00ffff"><path d="M400.50 395.20H402.70L405.30 400.20V402.20L402.70 407.20H400.50L397.90 402.20V400.20Z"/></g><text x="432.6" y="411.25" class="lg" textLength="71.6" lengthAdjust="spacing">SLGDA</text><path d="M376 428.40H427.4" stroke="#ff0000" stroke-width="3.1" fill="none"/><g fill="#fff" stroke="#ff0000" stroke-width="3.0" stroke-linejoin="miter"><path d="M394.80 424.50L408.40 424.50L401.60 435.00Z"/></g><text x="432.6" y="439.10" class="lg" textLength="69.9" lengthAdjust="spacing">CBLSE</text>
<text x="238.3" y="503.9" class="xl">Dimension</text>
<text transform="translate(32.6 391.6) rotate(-90)" x="0" y="0" class="yl" textLength="316" lengthAdjust="spacing">Recognition Accuracy (%)</text>
</svg>
</body></html>
